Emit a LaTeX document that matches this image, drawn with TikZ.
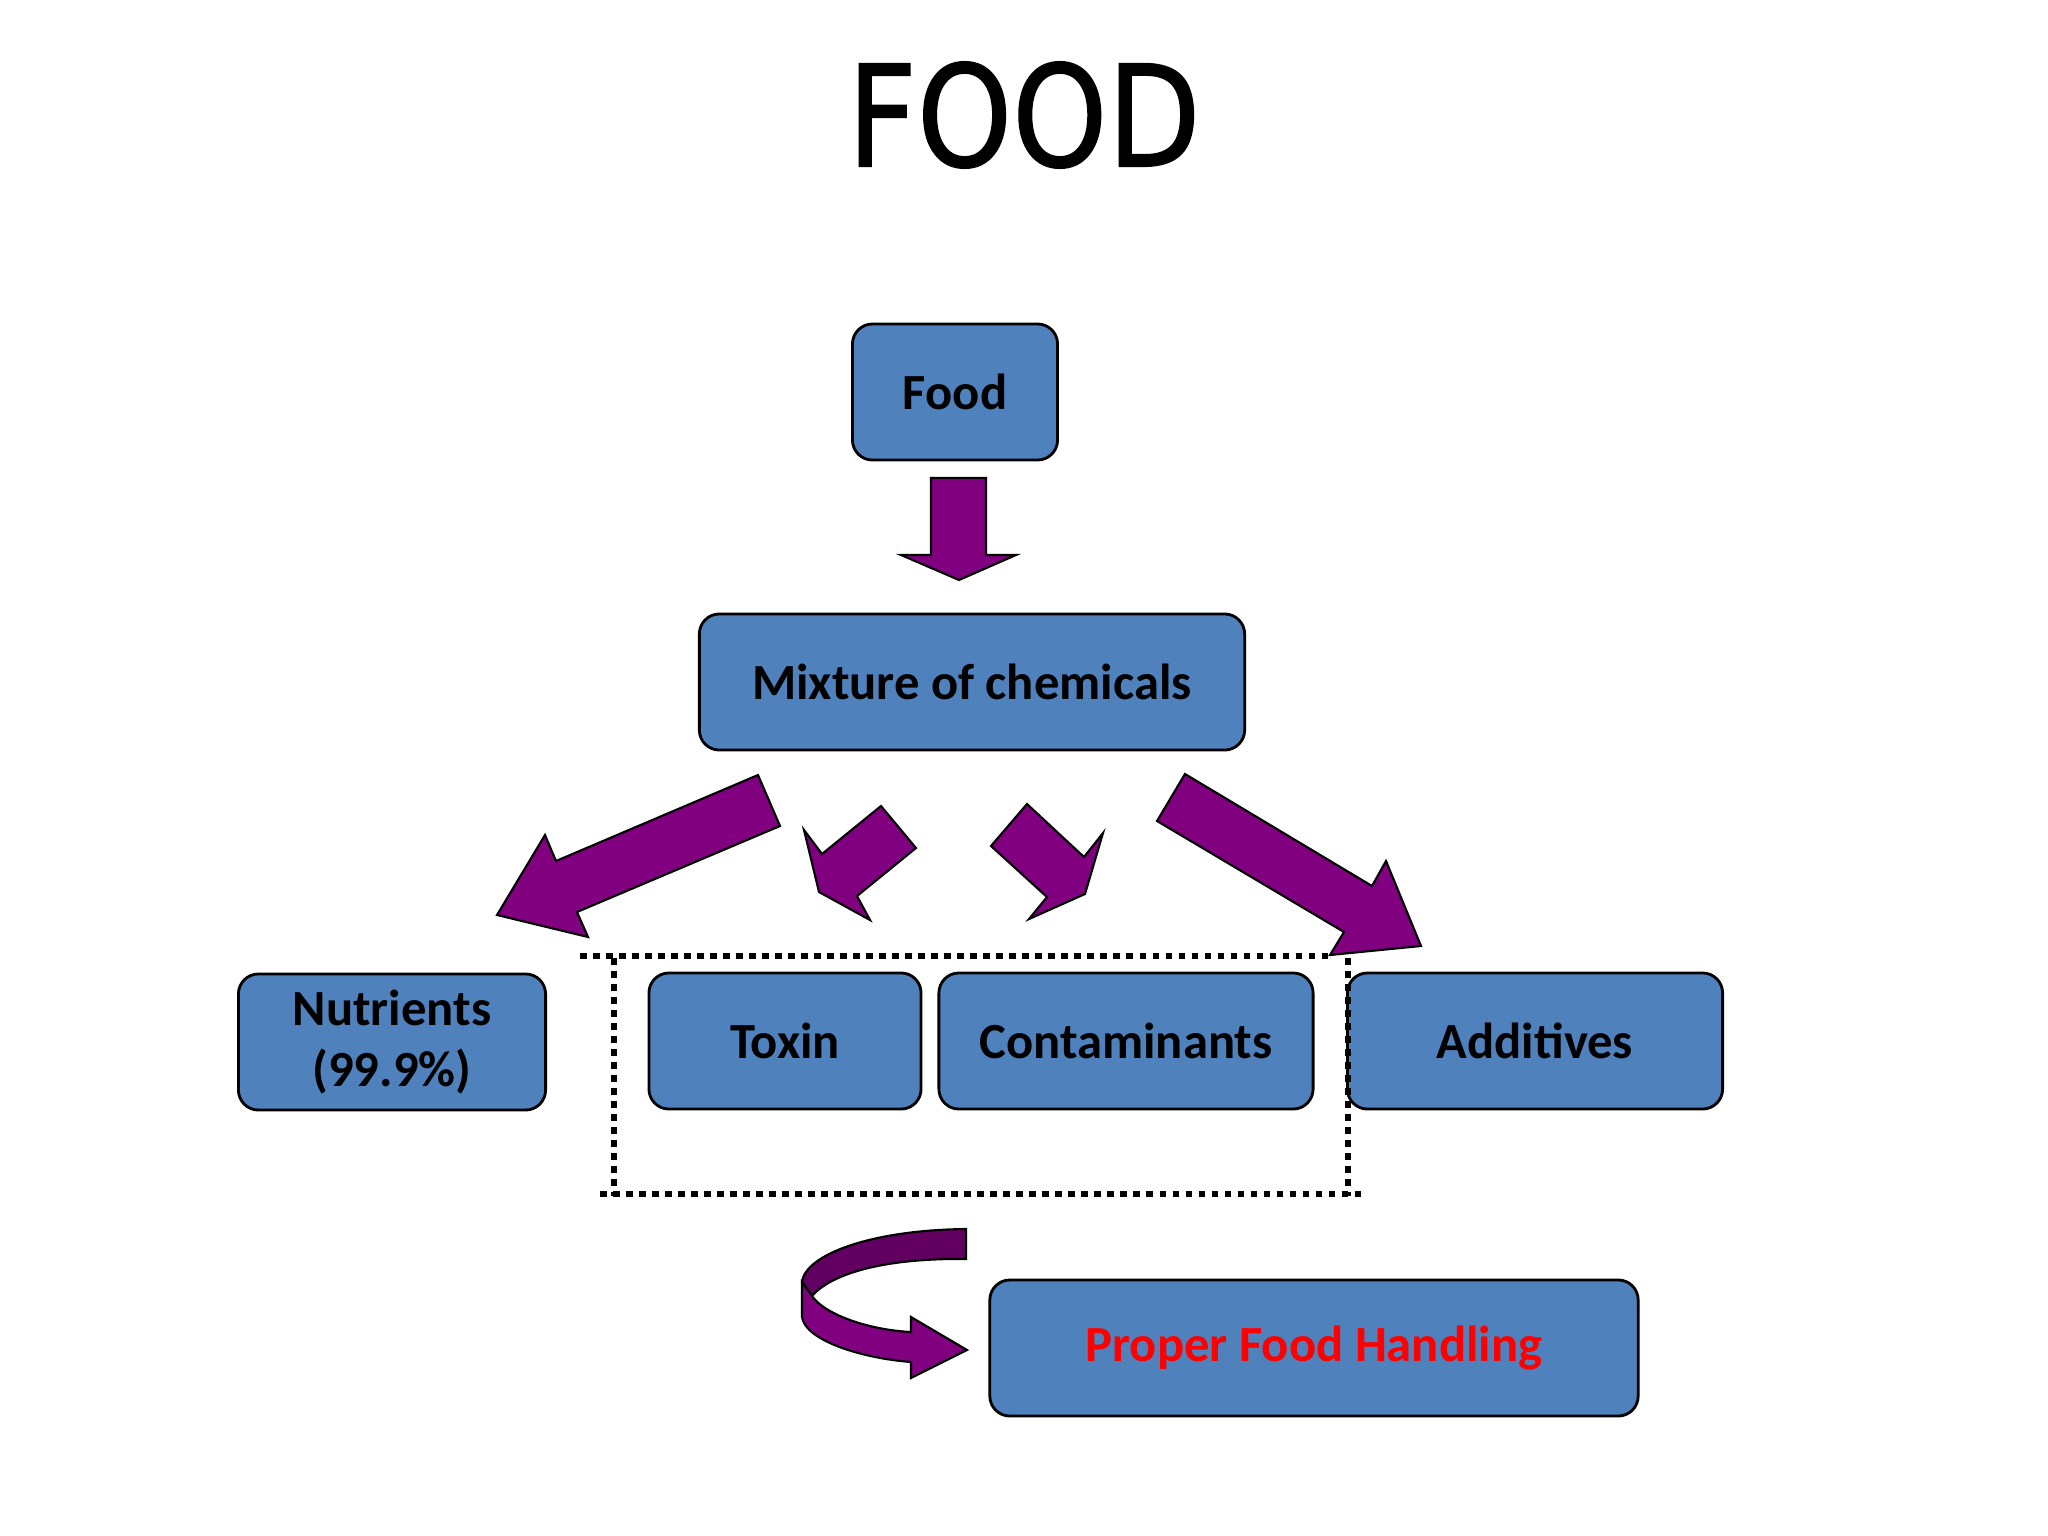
\documentclass[tikz,border=0pt]{standalone}
\usepackage{fontspec}
\usepackage{graphicx}
\setmainfont{Carlito}
\newfontfamily\titlefont[FakeBold=1.2]{DejaVu Sans}
\usetikzlibrary{positioning}

\definecolor{boxblue}{RGB}{79,129,189}
\definecolor{arrowpurple}{RGB}{128,0,128}
\definecolor{darkpurple}{RGB}{98,0,98}
\definecolor{handlered}{RGB}{255,0,0}

\tikzset{
  box/.style={draw=black, line width=0.8pt, fill=boxblue, rounded corners=0.2cm,
    align=center, inner sep=0pt, minimum height=1.36cm,
    font=\fontsize{14.4}{17.6}\selectfont\bfseries\upshape},
  blockarrow/.style={draw=black, line width=0.6pt, fill=arrowpurple, line join=miter},
  groupline/.style={line width=1.7pt, dash pattern=on 1.9pt off 1.8pt},
}

\begin{document}
\begin{tikzpicture}[x=0.01cm, y=-0.01cm]
    \useasboundingbox (0,0) rectangle (2048,1536);

    \node[font=\titlefont\fontsize{40}{48}\selectfont] (title) at (1024,115)
        {\scalebox{0.86}[1]{FOOD}};

    % boxes
    \node[box, minimum width=2.05cm] (food) at (955,392) {Food};
    \node[box, minimum width=5.45cm] (mixture) at (972,682) {Mixture of chemicals};
    \node[box, minimum width=3.07cm] (nutrients) at (392,1042) {Nutrients\\(99.9\%)};
    \node[box, minimum width=2.72cm] (toxin) at (785,1041) {Toxin};
    \node[box, minimum width=3.74cm] (contaminants) at (1126,1041) {Contaminants};
    \node[box, minimum width=3.75cm] (additives) at (1535,1041) {Additives};
    \node[box, minimum width=6.48cm, text=handlered] (handling) at (1314,1348) {Proper Food Handling};

    % block arrows
    \draw[blockarrow] (931,478) -- (986,478) -- (986,555) -- (1016,555)
        -- (959,580) -- (901,555) -- (931,555) -- cycle;
    \draw[blockarrow] (758,775) -- (780,826) -- (577,912) -- (588,937)
        -- (497,915) -- (545,835) -- (556,861) -- cycle;
    \draw[blockarrow] (881,806) -- (916,848) -- (857,896) -- (870,920)
        -- (819,892) -- (804,830) -- (822,854) -- cycle;
    \draw[blockarrow] (1027,804) -- (991,846) -- (1047,897) -- (1029,919)
        -- (1085,894) -- (1103,833) -- (1084,857) -- cycle;
    \draw[blockarrow] (1185,774) -- (1157,821) -- (1344,932) -- (1330,955)
        -- (1421,946) -- (1386,861) -- (1372,886) -- cycle;

    % dotted group
    \draw[groupline] (580,956) -- (1332,956);
    \draw[groupline] (614,958) -- (614,1196);
    \draw[groupline] (1348,958) -- (1348,1196);
    \draw[groupline] (600,1194) -- (1365,1194);

    % curved arrow
    \draw[blockarrow, fill=darkpurple] (966,1229) .. controls (870,1230) and (805,1255) .. (802,1282)
        -- (812,1296) .. controls (830,1275) and (880,1258) .. (966,1259) -- cycle;
    \draw[blockarrow] (802,1282) -- (802,1317) .. controls (805,1340) and (860,1358) .. (911,1362)
        -- (911,1378) -- (967,1350) -- (911,1317) -- (911,1332)
        .. controls (870,1330) and (825,1315) .. (812,1296) -- cycle;

\end{tikzpicture}
\end{document}
